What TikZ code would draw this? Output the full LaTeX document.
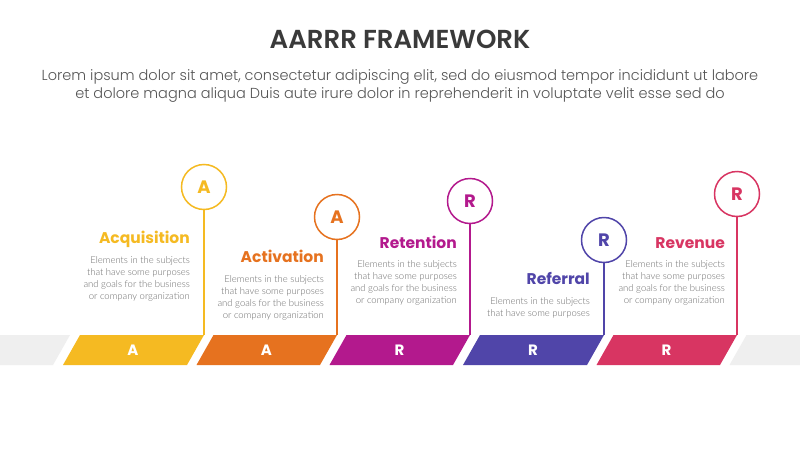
\documentclass[tikz,border=0pt]{standalone}
\usepackage{fontspec}
\setmainfont{Poppins}
\newfontfamily\titlefont{Poppins}[UprightFont=* SemiBold]
\newfontfamily\leadfont{Poppins}[UprightFont=* Light]
\newfontfamily\bodyfont{Lato}[UprightFont=* Light]
\usepackage{xcolor}
\usepackage{tikz}
\definecolor{acqcol}{HTML}{F5BA22}
\definecolor{actcol}{HTML}{E6721F}
\definecolor{retcol}{HTML}{B3198D}
\definecolor{refcol}{HTML}{5045A9}
\definecolor{revcol}{HTML}{D83562}
\definecolor{bandgray}{HTML}{EFEFEF}
\definecolor{titlegray}{HTML}{3A3A3A}
\definecolor{subgray}{HTML}{555555}
\definecolor{txtgray}{HTML}{6E6E6E}

\begin{document}
\begin{tikzpicture}[x=1pt, y=-1pt,
    badge/.style={circle, draw=#1, line width=1.5pt, fill=white, minimum size=45pt, inner sep=0pt, text=#1, font=\fontsize{18}{18}\selectfont\bfseries},
    stem/.style={draw=#1, line width=1.6pt},
    heading/.style={anchor=base east, inner sep=0pt, text=#1, font=\fontsize{15.5}{15.5}\selectfont\bfseries},
    blurb/.style={anchor=base east, inner sep=0pt, align=right, text=txtgray, font=\bodyfont\fontsize{9.5}{12}\selectfont},
    barletter/.style={text=white, inner sep=0pt, font=\fontsize{15}{15}\selectfont\bfseries}]
        \useasboundingbox (0,0) rectangle (800,450);
        \fill[white] (0,0) rectangle (800,450);

        \node[text=titlegray, font=\titlefont\fontsize{26}{26}\selectfont] (title) at (400,39) {AARRR FRAMEWORK};
        \node[text=subgray, align=center, anchor=base, inner sep=0pt, font=\leadfont\fontsize{14.5}{18}\selectfont] (subtitle) at (400,98)
            {Lorem ipsum dolor sit amet, consectetur adipiscing elit, sed do eiusmod tempor incididunt ut labore\\
             et dolore magna aliqua Duis aute irure dolor in reprehenderit in voluptate velit esse sed do};

        % band
        \fill[bandgray] (0,335) -- (70,335) -- (53,365) -- (0,365) -- cycle;
        \fill[bandgray] (746.5,335) -- (800,335) -- (800,365) -- (729.5,365) -- cycle;

        % acquisition
        \fill[acqcol] (80,335) -- (204,335) -- (187,365) -- (63,365) -- cycle;
        \node[barletter] (barA1) at (133,350) {A};
        \coordinate (topA1) at (204,335);
        \node[badge=acqcol] (badgeA1) at (204,187) {A};
        \draw[stem=acqcol] (badgeA1) -- (topA1);
        \node[heading=acqcol] (headA1) at (190,243) {Acquisition};
        \node[blurb] (textA1) at (190,299) {Elements in the subjects\\that have some purposes\\and goals for the business\\or company organization};

        % activation
        \fill[actcol] (213.5,335) -- (337,335) -- (320,365) -- (196.5,365) -- cycle;
        \node[barletter] (barA2) at (266.5,350) {A};
        \coordinate (topA2) at (337,335);
        \node[badge=actcol] (badgeA2) at (337,217) {A};
        \draw[stem=actcol] (badgeA2) -- (topA2);
        \node[heading=actcol] (headA2) at (324,262) {Activation};
        \node[blurb] (textA2) at (324,318) {Elements in the subjects\\that have some purposes\\and goals for the business\\or company organization};

        % retention
        \fill[retcol] (346.5,335) -- (470,335) -- (453,365) -- (329.5,365) -- cycle;
        \node[barletter] (barR1) at (399.5,350) {R};
        \coordinate (topR1) at (470,335);
        \node[badge=retcol] (badgeR1) at (470,201) {R};
        \draw[stem=retcol] (badgeR1) -- (topR1);
        \node[heading=retcol] (headR1) at (457,248) {Retention};
        \node[blurb] (textR1) at (457,303) {Elements in the subjects\\that have some purposes\\and goals for the business\\or company organization};

        % referral
        \fill[refcol] (480,335) -- (604,335) -- (587,365) -- (463,365) -- cycle;
        \node[barletter] (barR2) at (533,350) {R};
        \coordinate (topR2) at (604,335);
        \node[badge=refcol] (badgeR2) at (604,240) {R};
        \draw[stem=refcol] (badgeR2) -- (topR2);
        \node[heading=refcol] (headR2) at (590,284) {Referral};
        \node[blurb] (textR2) at (590,316) {Elements in the subjects\\that have some purposes};

        % revenue
        \fill[revcol] (613.5,335) -- (737,335) -- (720,365) -- (596.5,365) -- cycle;
        \node[barletter] (barR3) at (666.5,350) {R};
        \coordinate (topR3) at (737,335);
        \node[badge=revcol] (badgeR3) at (737,194) {R};
        \draw[stem=revcol] (badgeR3) -- (topR3);
        \node[heading=revcol] (headR3) at (725,248) {Revenue};
        \node[blurb] (textR3) at (725,303) {Elements in the subjects\\that have some purposes\\and goals for the business\\or company organization};
    \end{tikzpicture}
\end{document}
